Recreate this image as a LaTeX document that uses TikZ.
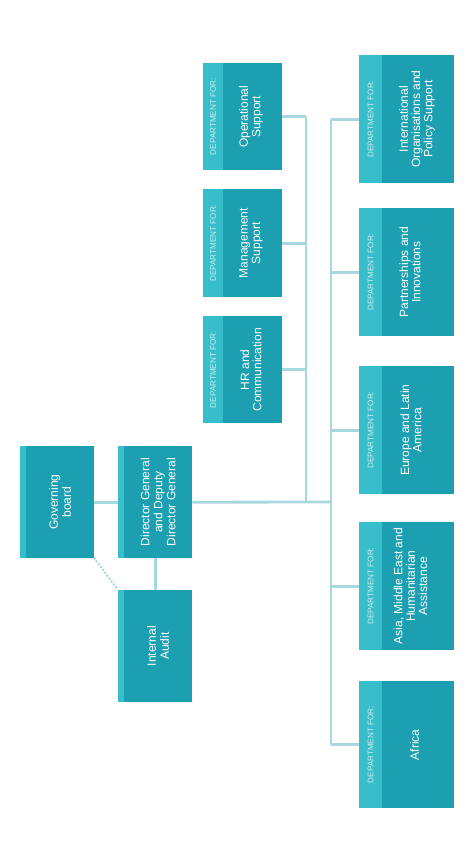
\documentclass[tikz,border=0pt]{standalone}
\usepackage{fontspec}
\setmainfont{Liberation Sans}
\usetikzlibrary{calc}
\definecolor{boxmain}{HTML}{1B9FB1}
\definecolor{boxstrip}{HTML}{38BDCA}
\definecolor{connc}{HTML}{A6D8DE}
\definecolor{deptc}{HTML}{CDEEF2}
\tikzset{
  box/.style={rectangle, fill=boxmain, draw=none, inner sep=0pt, anchor=north west},
  conn/.style={draw=connc, line width=2.8pt},
  toptext/.style={rotate=90, text=white, align=center, inner sep=0pt, font=\fontsize{12}{13}\selectfont},
  depttext/.style={rotate=90, text=white, align=center, inner sep=0pt, font=\fontsize{12}{12.3}\selectfont},
  deptlabel/.style={rotate=90, text=deptc, inner sep=0pt, font=\fontsize{8.1}{9}\selectfont},
}
\begin{document}
\begin{tikzpicture}[x=1pt,y=-1pt]
\fill[white] (0,0) rectangle (474,863);
\useasboundingbox (0,0) rectangle (474,863);

% top-level boxes
\node[box, minimum width=74pt, minimum height=112pt] (gov) at (20,446) {};
\node[box, minimum width=74pt, minimum height=112pt] (dg) at (118,446) {};
\node[box, minimum width=74pt, minimum height=112pt] (audit) at (118,590) {};
\foreach \n in {gov,dg,audit}{
  \fill[boxstrip] (\n.north west) rectangle ([xshift=6pt]\n.south west);
}
\node[toptext] (govt) at ($(gov.center)+(3,0)$) {Governing\\board};
\node[toptext] (dgt) at ($(dg.center)+(3,0)$) {Director General\\and Deputy\\Director General};
\node[toptext] (auditt) at ($(audit.center)+(3,0)$) {Internal\\Audit};

% left column departments
\node[box, minimum width=79pt, minimum height=107pt] (ops) at (203,63) {};
\node[box, minimum width=79pt, minimum height=108pt] (mgmt) at (203,189) {};
\node[box, minimum width=79pt, minimum height=107pt] (hr) at (203,316) {};
% right column departments
\node[box, minimum width=95pt, minimum height=128pt] (intl) at (359,55) {};
\node[box, minimum width=95pt, minimum height=128pt] (partn) at (359,208) {};
\node[box, minimum width=95pt, minimum height=128pt] (europe) at (359,366) {};
\node[box, minimum width=95pt, minimum height=128pt] (asia) at (359,522) {};
\node[box, minimum width=95pt, minimum height=127pt] (africa) at (359,681) {};

\foreach \n in {ops,mgmt,hr}{
  \fill[boxstrip] (\n.north west) rectangle ([xshift=20pt]\n.south west);
  \node[deptlabel] (\n l) at ([xshift=10pt]\n.west) {DEPARTMENT FOR:};
}
\foreach \n in {intl,partn,europe,asia,africa}{
  \fill[boxstrip] (\n.north west) rectangle ([xshift=23pt]\n.south west);
  \node[deptlabel] (\n l) at ([xshift=11.5pt]\n.west) {DEPARTMENT FOR:};
}
\node[depttext] (opst) at (ops.center -| 251,0) {Operational\\Support};
\node[depttext] (mgmtt) at (mgmt.center -| 251,0) {Management\\Support};
\node[depttext] (hrt) at (hr.center -| 251,0) {HR and\\Communication};
\node[depttext] (intlt) at (intl.center -| 417,0) {International\\Organisations and\\Policy Support};
\node[depttext] (partnt) at (partn.center -| 410,0) {Partnerships and\\Innovations};
\node[depttext] (europet) at (europe.center -| 411,0) {Europe and Latin\\America};
\node[depttext] (asiat) at (asia.center -| 410.5,0) {Asia, Middle East and\\Humanitarian\\Assistance};
\node[depttext] (africat) at (africa.center -| 414.5,0) {Africa};

% connectors
\coordinate (b1) at (306,502);
\coordinate (b2) at (331,502);
\draw[conn] (gov.east) -- (dg.west);
\draw[conn] (dg.south) -- (audit.north);
\draw[conn, line cap=round, dash pattern=on 0pt off 3.6pt] (gov.south east) -- (audit.north west);
\draw[conn] (dg.east) -- (b2);
\draw[conn] (b1) -- (ops.east -| b1);
\foreach \n in {ops,mgmt,hr}{
  \draw[conn] (\n.east) -- (\n.east -| b1);
}
\draw[conn] (intl.west -| b2) -- (africa.west -| b2);
\foreach \n in {intl,partn,europe,asia,africa}{
  \draw[conn] (\n.west) -- (\n.west -| b2);
}
\end{tikzpicture}
\end{document}
